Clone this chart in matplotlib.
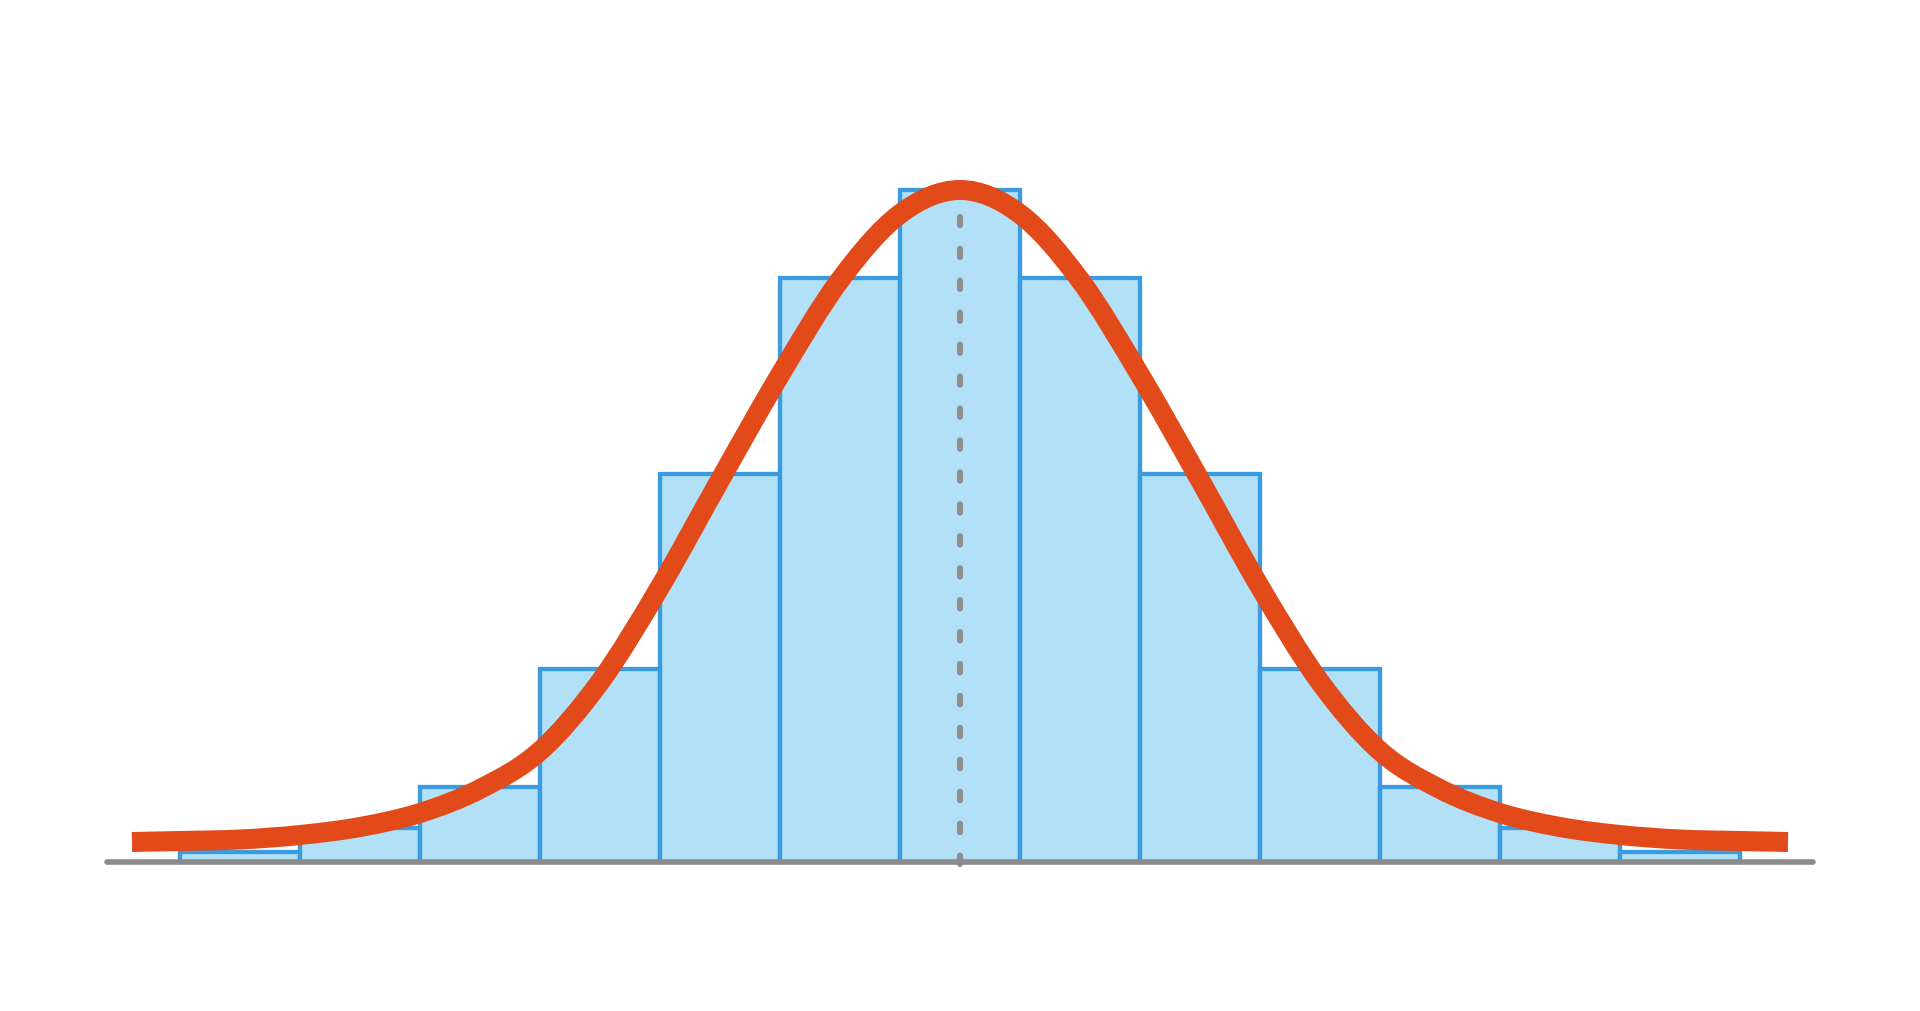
"""Histogram with a bell-shaped fitted curve and a dotted mean marker."""
import matplotlib
matplotlib.use('Agg')
import matplotlib.pyplot as plt
from matplotlib.path import Path
from matplotlib.patches import PathPatch

# bins (centres, width 1) and counts
BIN_CENTERS = [-6, -5, -4, -3, -2, -1, 0, 1, 2, 3, 4, 5, 6]
COUNTS = [10, 34, 75, 193, 388, 584, 672, 584, 388, 193, 75, 34, 10]

# fitted curve
CURVE_X = [-6.9, -6.5, -6.0, -5.5, -5.0, -4.5, -4.0, -3.5, -3.0, -2.5,
           -2.0, -1.5, -1.0, -0.5, 0.0, 0.5, 1.0, 1.5, 2.0,
           2.5, 3.0, 3.5, 4.0, 4.5, 5.0, 5.5, 6.0, 6.5, 6.9]
CURVE_Y = [20, 21, 22.5, 27, 35, 49, 73, 111, 180, 275,
           382, 487, 582, 648, 672, 648, 582, 487, 382,
           275, 180, 111, 73, 49, 35, 27, 22.5, 21, 20]

MEAN = 0.0
MEAN_TOP = 645

FILL = '#B1E0F7'
EDGE = '#3A9BDE'
CURVE = '#E24A1A'
GREY = '#8C8C8C'

plt.rcParams['lines.scale_dashes'] = False


def smooth_path(xs, ys):
    """Smooth graph through the points: cubic Hermite pieces as Beziers."""
    n = len(xs)
    h = [xs[i + 1] - xs[i] for i in range(n - 1)]
    d = [(ys[i + 1] - ys[i]) / h[i] for i in range(n - 1)]
    m = [d[0]]
    for i in range(1, n - 1):
        m.append((d[i - 1] * h[i] + d[i] * h[i - 1]) / (h[i - 1] + h[i]))
    m.append(d[-1])
    verts, codes = [(xs[0], ys[0])], [Path.MOVETO]
    for i in range(n - 1):
        t = h[i] / 3
        verts += [(xs[i] + t, ys[i] + m[i] * t),
                  (xs[i + 1] - t, ys[i + 1] - m[i + 1] * t),
                  (xs[i + 1], ys[i + 1])]
        codes += [Path.CURVE4] * 3
    return Path(verts, codes)


fig = plt.figure(figsize=(19.2, 10.11), dpi=100)
ax = fig.add_axes([0, 0, 1, 1])
ax.set_xlim(-8, 8)
ax.set_ylim(-149, 862)
ax.axis('off')

ax.bar(BIN_CENTERS, COUNTS, width=1.0, color=FILL, edgecolor=EDGE,
       linewidth=3.1, zorder=1)

# axis line
ax.plot([-7.11, 7.11], [0, 0], color=GREY, lw=4.0,
        solid_capstyle='round', zorder=2)

# mean marker
mean_line, = ax.plot([MEAN, MEAN], [-2, MEAN_TOP], color=GREY, lw=4.4,
                     dash_capstyle='round', zorder=3)
mean_line.set_dashes((6.0, 17.0))

ax.add_patch(PathPatch(smooth_path(CURVE_X, CURVE_Y), fill=False,
                       edgecolor=CURVE, lw=14.4, capstyle='butt',
                       joinstyle='miter', zorder=4))

fig.savefig('out.png', dpi=100, facecolor='white')
